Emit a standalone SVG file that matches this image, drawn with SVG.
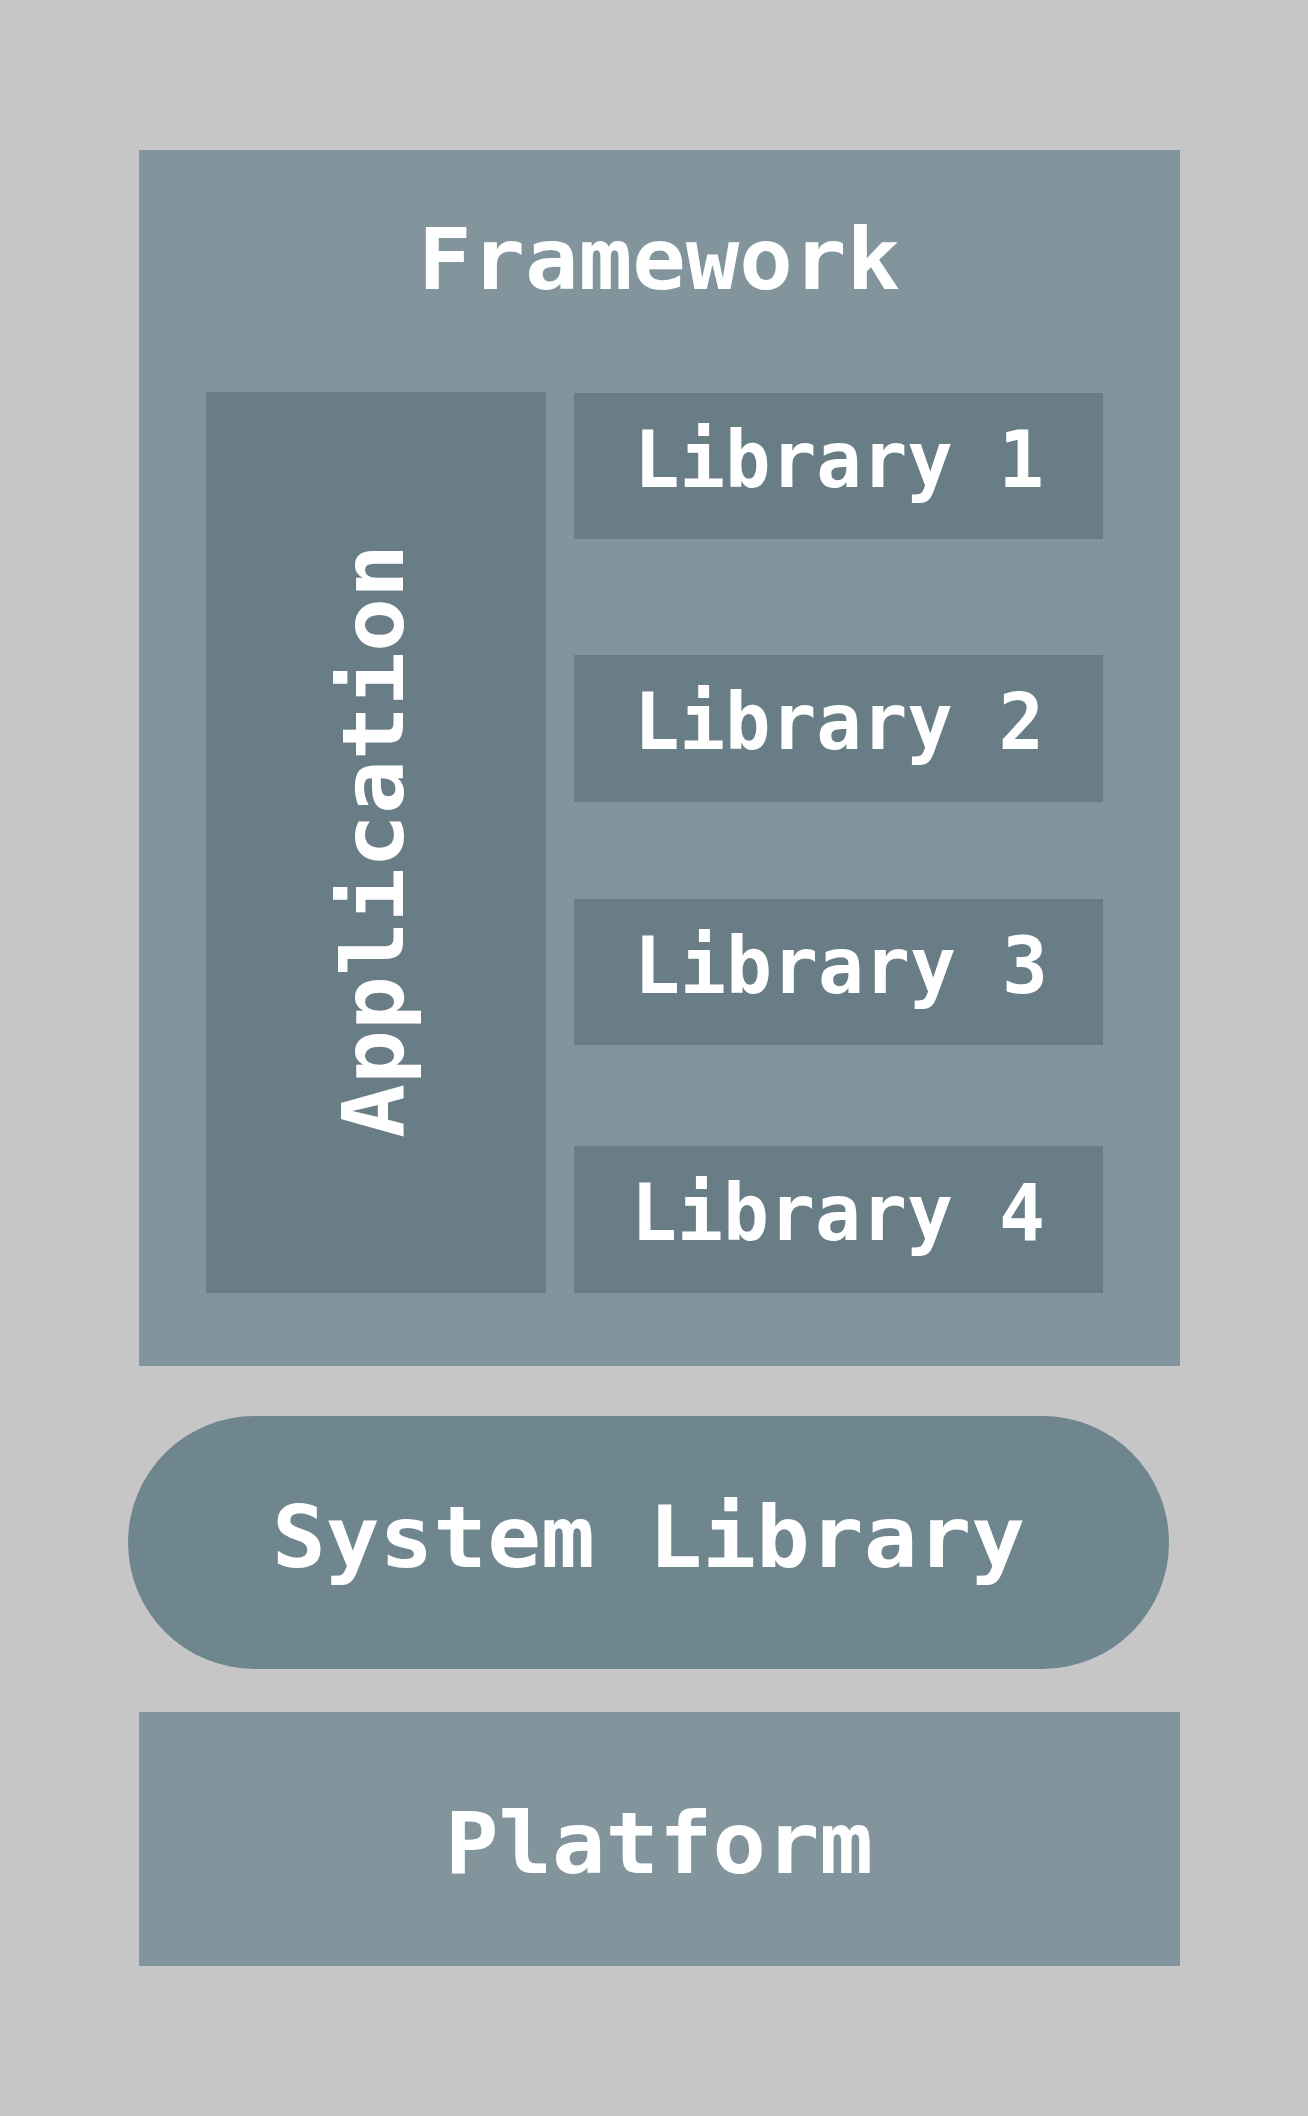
<svg xmlns="http://www.w3.org/2000/svg" width="1308" height="2116" viewBox="0 0 1308 2116">
  <style>
    .outer { fill: #82959d; }
    .inner { fill: #687d86; }
    .pill { fill: #6f868f; }
    .lbl { fill: #ffffff; font-family: "DejaVu Sans Mono", "Liberation Mono", monospace; font-weight: bold; text-anchor: middle; }
    .big { font-size: 86px; }
    .lib { font-size: 78px; }
  </style>
  <rect x="0" y="0" width="1308" height="2116" fill="#c6c6c6"/>
  <g id="framework">
    <rect class="outer" x="139" y="150" width="1041" height="1216"/>
    <text class="lbl big" x="659" y="289" textLength="482" lengthAdjust="spacingAndGlyphs">Framework</text>
  </g>
  <g id="application">
    <rect class="inner" x="206" y="392" width="340" height="901"/>
    <text class="lbl big" transform="translate(403 841) rotate(-90)" x="0" y="0" textLength="594" lengthAdjust="spacingAndGlyphs">Application</text>
  </g>
  <g id="library1">
    <rect class="inner" x="574" y="393" width="529" height="146"/>
    <text class="lbl lib" x="839" y="487" textLength="410" lengthAdjust="spacingAndGlyphs">Library 1</text>
  </g>
  <g id="library2">
    <rect class="inner" x="574" y="655" width="529" height="147"/>
    <text class="lbl lib" x="839" y="749" textLength="410" lengthAdjust="spacingAndGlyphs">Library 2</text>
  </g>
  <g id="library3">
    <rect class="inner" x="574" y="899" width="529" height="146"/>
    <text class="lbl lib" x="841" y="993" textLength="414" lengthAdjust="spacingAndGlyphs">Library 3</text>
  </g>
  <g id="library4">
    <rect class="inner" x="574" y="1146" width="529" height="147"/>
    <text class="lbl lib" x="838" y="1240" textLength="414" lengthAdjust="spacingAndGlyphs">Library 4</text>
  </g>
  <g id="system-library">
    <rect class="pill" x="128" y="1416" width="1041" height="253" rx="126.5" ry="126.5"/>
    <text class="lbl big" x="648.5" y="1567" textLength="753" lengthAdjust="spacingAndGlyphs">System Library</text>
  </g>
  <g id="platform">
    <rect class="outer" x="139" y="1712" width="1041" height="254"/>
    <text class="lbl big" x="659" y="1873" textLength="428" lengthAdjust="spacingAndGlyphs">Platform</text>
  </g>
  <g id="connectors"/>
</svg>
